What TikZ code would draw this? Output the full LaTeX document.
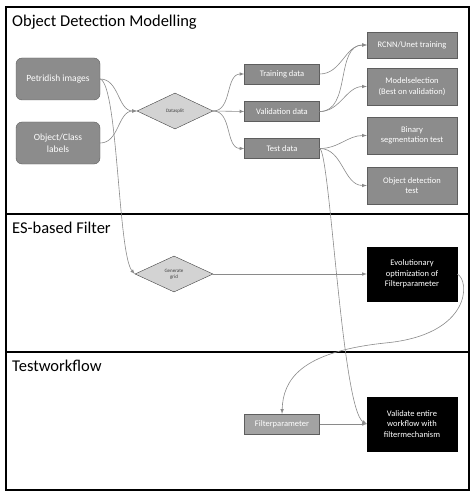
\documentclass[tikz,border=0pt]{standalone}
\usepackage{fontspec}
\setmainfont{Carlito}
\usetikzlibrary{shapes,shapes.geometric,arrows,positioning}
\definecolor{boxgray}{HTML}{8C8C8C}
\definecolor{lightbox}{HTML}{A3A3A3}
\definecolor{rimgray}{HTML}{5E5E5E}
\definecolor{diagray}{HTML}{D3D3D3}
\definecolor{wiregray}{HTML}{8A8A8A}

\begin{document}
\begin{tikzpicture}[x=1pt,y=-1pt]
            \tikzstyle{every node} = [align=center, inner sep=1pt]
            \tikzstyle{title} = [anchor=west, font=\fontsize{16.5}{19}\selectfont]
            \tikzstyle{box} = [draw=rimgray, fill=boxgray, text=white, font=\fontsize{8.5}{10.5}\selectfont, minimum width=75pt, minimum height=20pt]
            \tikzstyle{bigbox} = [box, minimum width=90pt, minimum height=37pt]
            \tikzstyle{blackbox} = [box, draw=black, fill=black, minimum width=90pt, minimum height=54pt]
            \tikzstyle{source} = [box, rounded corners=6pt, minimum width=84pt, minimum height=42pt, font=\fontsize{9.5}{11.5}\selectfont]
            \tikzstyle{split} = [diamond, draw=rimgray!70!black, fill=diagray, text=black!75, font=\fontsize{5}{6}\selectfont, aspect=2.1, inner sep=0pt, minimum width=76pt, minimum height=36pt]
            \tikzstyle{wire} = [draw=wiregray, line width=0.6pt, -latex]

            \useasboundingbox (0,0) rectangle (474,497);
            \draw[line width=2pt] (6,7) rectangle (469,490);
            \draw[line width=2pt] (6,214) -- (469,214);
            \draw[line width=2pt] (6,352) -- (469,352);

            \node[title] (t1) at (11,22) {Object Detection Modelling};
            \node[title] (t2) at (11,228) {ES-based Filter};
            \node[title] (t3) at (11,366) {Testworkflow};

            % Object detection modelling
            \node[source] (petri) at (58,79) {Petridish images};
            \node[source] (labels) at (58,143) {Object/Class\\labels};
            \node[split] (datasplit) at (175,111) {Datasplit};
            \node[box] (train) at (282,74) {Training data};
            \node[box] (valid) at (282,111.5) {Validation data};
            \node[box] (test) at (282,148.5) {Test data};
            \node[bigbox, minimum height=26pt] (rcnn) at (412,45) {RCNN/Unet training};
            \node[bigbox] (modsel) at (412,86.5) {Modelselection\\(Best on validation)};
            \node[bigbox] (binary) at (412,135.5) {Binary\\segmentation test};
            \node[bigbox] (objdet) at (412,185.5) {Object detection\\test};

            % ES-based filter
            \node[split, minimum width=78pt] (grid) at (174,274) {Generate\\grid};
            \node[blackbox] (evo) at (412,274) {Evolutionary\\optimization of\\Filterparameter};

            % Testworkflow
            \node[box, fill=lightbox] (fpar) at (282,424) {Filterparameter};
            \node[blackbox] (validall) at (412,424) {Validate entire\\workflow with\\filtermechanism};
            \coordinate (bend) at (385,343);

            \path[wire] (petri.east) to[out=0, in=180] (datasplit.west);
            \path[wire] (labels.east) to[out=0, in=180] (datasplit.west);
            \path[wire] (datasplit.east) to[out=0, in=180] (train.west);
            \path[wire] (datasplit.east) -- (valid.west);
            \path[wire] (datasplit.east) to[out=0, in=180] (test.west);
            \path[wire] (train.east) to[out=0, in=180] (rcnn.west);
            \path[wire] (valid.east) to[out=0, in=180] (rcnn.west);
            \path[wire] (valid.east) to[out=0, in=180] (modsel.west);
            \path[wire] (test.east) to[out=0, in=180] (binary.west);
            \path[wire] (test.east) to[out=0, in=180] (objdet.west);
            \path[wire] (petri.east) .. controls (118,85) and (118,255) .. (grid.west);
            \path[wire] (grid.east) -- (evo.west);
            \path[wire] (test.east) .. controls (330,152) and (342,410) .. (validall.west);
            \path[wire] (evo.east) .. controls (470,280) and (472,335) .. (bend) .. controls (300,352) and (283,380) .. (fpar.north);
            \path[wire] (fpar.east) -- (validall.west);
      \end{tikzpicture}
\end{document}
